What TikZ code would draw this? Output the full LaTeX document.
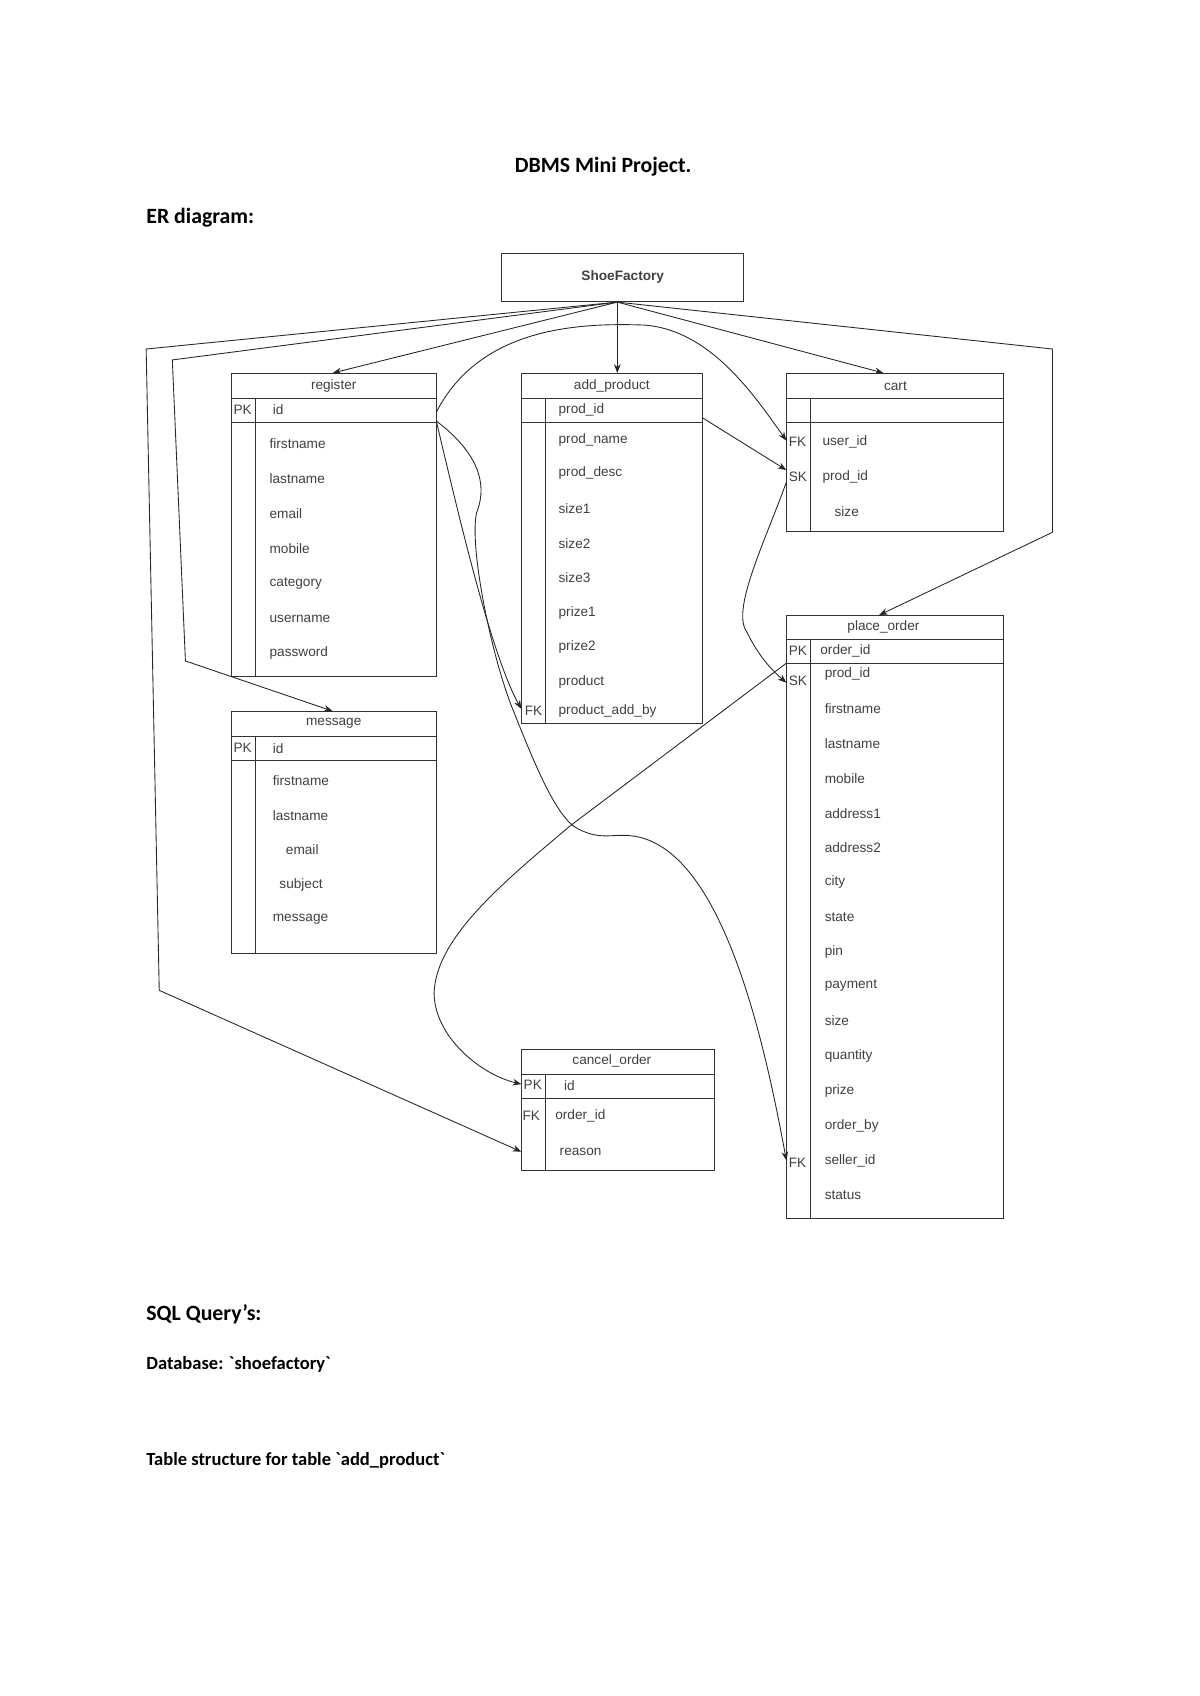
\documentclass[tikz,border=0pt]{standalone}
\usepackage{fontspec}
\setmainfont{Liberation Sans}
\newfontfamily\calib{Carlito}
\usetikzlibrary{arrows.meta}
\begin{document}
\begin{tikzpicture}[x=1pt,y=-1pt,
  box/.style={draw=black!80,line width=0.9pt,inner sep=0pt},
  ln/.style={draw=black!80,line width=0.9pt},
  fld/.style={anchor=west,inner sep=0pt,font=\fontsize{12.5}{14}\selectfont,text=black!75},
  key/.style={anchor=west,inner sep=0pt,font=\fontsize{12.5}{14}\selectfont,text=black!75},
  hdr/.style={inner sep=0pt,font=\fontsize{12.5}{14}\selectfont,text=black!75},
  ttl/.style={anchor=west,inner sep=0pt,font=\calib\bfseries\fontsize{20}{24}\selectfont},
  sttl/.style={anchor=west,inner sep=0pt,font=\calib\bfseries\fontsize{17}{20}\selectfont},
  con/.style={draw=black!85,line width=0.8pt},
  arr/.style={con,-{Stealth[length=8pt,width=6pt]}}]
\useasboundingbox (0,0) rectangle (1100,1555);
% titles
\node[inner sep=0pt,font=\calib\bfseries\fontsize{20}{24}\selectfont] (t1) at (553,153) {DBMS Mini Project.};
\node[ttl] (t2) at (134,200) {ER diagram:};
\node[ttl] (t3) at (134,1205) {SQL Query’s:};
\node[sttl] (t4) at (134,1251) {Database: `shoefactory`};
\node[sttl] (t5) at (134,1339) {Table structure for table `add\_product`};
% ShoeFactory
\node[box,minimum width=222pt,minimum height=44pt,font=\fontsize{12.5}{14}\selectfont\bfseries,text=black!75] (sf) at (571,254) {ShoeFactory};
\coordinate (sfb) at (566,277);
% register
\node[box,anchor=north west,minimum width=188pt,minimum height=278pt] (reg) at (212,342) {};
\draw[ln] (212,365) -- (400,365) (212,387) -- (400,387) (234,365) -- (234,620);
\node[hdr] (regh) at (306,354) {register};
\node[key] at (214,376) {PK};
\node[fld] at (250,376) {id};
\foreach \t/\y in {firstname/407,lastname/439,email/471,mobile/503,category/535,username/567,password/599}
  \node[fld] at (247,\y) {\t};
% add_product
\node[box,anchor=north west,minimum width=166pt,minimum height=321pt] (ap) at (478,342) {};
\draw[ln] (478,365) -- (644,365) (478,387) -- (644,387) (500,365) -- (500,663);
\node[hdr] at (561,354) {add\_product};
\foreach \t/\y in {prod\_id/376,prod\_name/403,prod\_desc/434,size1/466,size2/498,size3/530,prize1/562,prize2/593,product/625,product\_add\_by/652}
  \node[fld] at (512,\y) {\t};
\node[key] at (481,652) {FK};
% cart
\node[box,anchor=north west,minimum width=199pt,minimum height=145pt] (cart) at (721,342) {};
\draw[ln] (721,365) -- (920,365) (721,387) -- (920,387) (743,365) -- (743,487);
\node[hdr] at (821,354) {cart};
\node[key] at (723,405) {FK};
\node[key] at (723,437) {SK};
\node[fld] at (754,405) {user\_id};
\node[fld] at (754,437) {prod\_id};
\node[fld] at (765,469) {size};
% place_order
\node[box,anchor=north west,minimum width=199pt,minimum height=553pt] (po) at (721,564) {};
\draw[ln] (721,586) -- (920,586) (721,608) -- (920,608) (743,586) -- (743,1117);
\node[hdr] at (810,575) {place\_order};
\node[key] at (723,597) {PK};
\node[key] at (723,624) {SK};
\node[key] at (723,1066) {FK};
\node[fld] at (752,597) {order\_id};
\foreach \t/\y in {prod\_id/618,firstname/650,lastname/682,mobile/714,address1/746,address2/777,city/809,state/841,pin/873,payment/904,size/936,quantity/968,prize/1000,order\_by/1032,seller\_id/1064,status/1096}
  \node[fld] at (756,\y) {\t};
% message
\node[box,anchor=north west,minimum width=188pt,minimum height=222pt] (msg) at (212,652) {};
\draw[ln] (212,675) -- (400,675) (212,697) -- (400,697) (234,675) -- (234,874);
\node[hdr] at (306,663) {message};
\node[key] at (214,686) {PK};
\node[fld] at (250,686) {id};
\foreach \t/\x/\y in {firstname/250/716,lastname/250/748,email/262/779,subject/256/811,message/250/843}
  \node[fld] at (\x,\y) {\t};
% cancel_order
\node[box,anchor=north west,minimum width=177pt,minimum height=111pt] (co) at (478,962) {};
\draw[ln] (478,985) -- (655,985) (478,1007) -- (655,1007) (500,985) -- (500,1073);
\node[hdr] at (561,973) {cancel\_order};
\node[key] at (480,995) {PK};
\node[key] at (479,1023) {FK};
\node[fld] at (517,995) {id};
\node[fld] at (509,1023) {order\_id};
\node[fld] at (513,1056) {reason};
% anchor coordinates
\coordinate (regT) at (305,342);
\coordinate (apT) at (566,342);
\coordinate (cartT) at (810,342);
\coordinate (poT) at (806,564);
\coordinate (msgT) at (305,652);
\coordinate (coR) at (478,1056);
\coordinate (coPK) at (478,994);
\coordinate (regId) at (400,378);
\coordinate (regId2) at (400,386);
\coordinate (apFK) at (478,650);
\coordinate (apId) at (644,383);
\coordinate (cartFK) at (721,404);
\coordinate (cartSK) at (721,431);
\coordinate (cartSKo) at (721,442);
\coordinate (poPK) at (721,608);
\coordinate (poSK) at (721,626);
\coordinate (poFK) at (721,1064);
% connectors
\draw[arr] (sfb) -- (regT);
\draw[arr] (sfb) -- (apT);
\draw[arr] (sfb) -- (cartT);
\draw[arr] (sfb) -- (965,320) -- (965,488) -- (poT);
\draw[arr] (sfb) -- (134,320) -- (146,908) -- (coR);
\draw[arr] (sfb) -- (158,330) -- (170,606) -- (msgT);
\draw[arr] (regId) .. controls (440,300) and (530,296) .. (590,298) .. controls (650,302) and (690,360) .. (cartFK);
\draw[arr] (regId2) .. controls (420,470) and (450,600) .. (apFK);
\draw[arr] (regId2) .. controls (445,420) and (445,450) .. (437,470) .. controls (430,500) and (450,600) .. (470,650) .. controls (490,700) and (510,750) .. (530,760) .. controls (550,770) and (560,765) .. (575,766) .. controls (660,770) and (700,950) .. (poFK);
\draw[arr] (apId) -- (cartSK);
\draw[arr] (cartSKo) .. controls (700,500) and (670,560) .. (685,580) .. controls (695,600) and (705,612) .. (poSK);
\draw[arr] (poPK) -- (523,757) .. controls (460,810) and (400,860) .. (398,910) .. controls (398,950) and (440,985) .. (coPK);
\end{tikzpicture}
\end{document}
